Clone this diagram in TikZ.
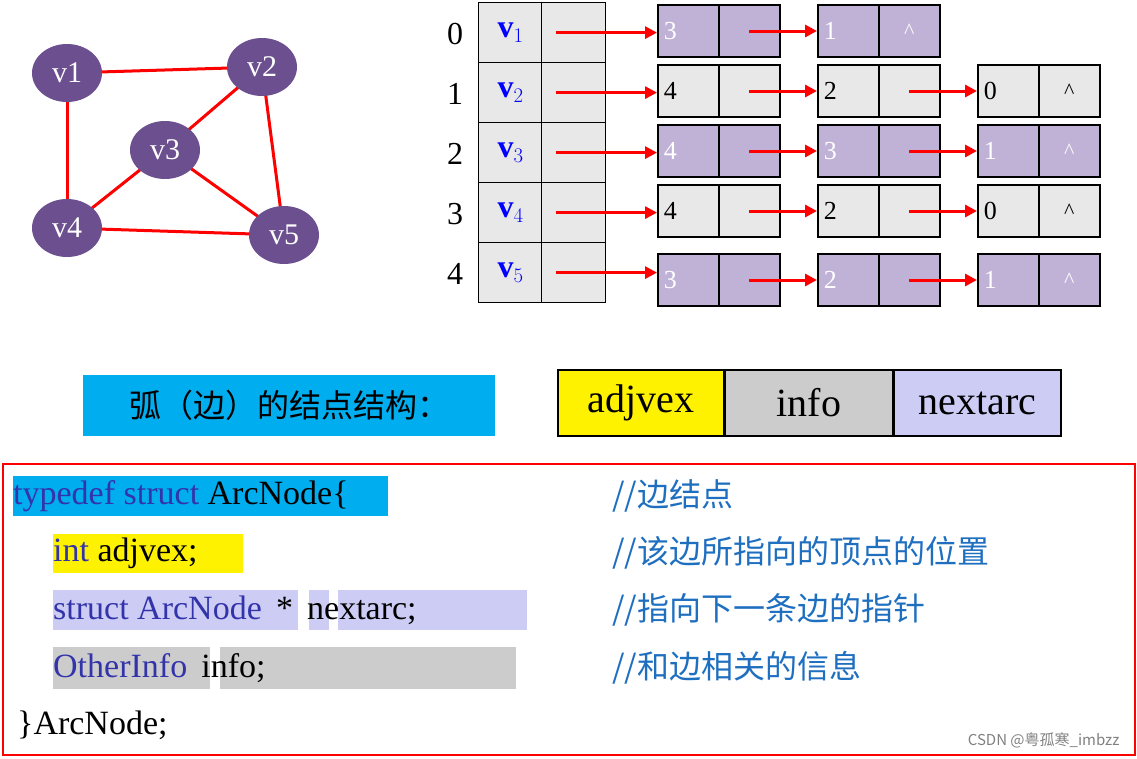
\documentclass[tikz,border=0pt]{standalone}
\usepackage{fontspec}
\setmainfont{Liberation Serif}
\newfontfamily\cjk{Noto Sans CJK SC}
\usetikzlibrary{arrows.meta, positioning, shapes.geometric}

\definecolor{vexpurple}{RGB}{107,79,143}
\definecolor{cellpurple}{RGB}{192,178,214}
\definecolor{cellgray}{RGB}{232,232,232}
\definecolor{kwblue}{RGB}{51,51,170}
\definecolor{cmtblue}{RGB}{31,111,192}
\definecolor{lav}{RGB}{204,204,245}

\begin{document}
\begin{tikzpicture}[x=1pt, y=-1pt,
    vex/.style={ellipse, fill=vexpurple, minimum width=70pt, minimum height=58pt,
                text=white, font=\fontsize{30}{30}\selectfont, inner sep=0pt},
    edge/.style={red, line width=3pt},
    head/.style={draw=black, line width=1.2pt, fill=cellgray, minimum width=64pt,
                 minimum height=60pt, inner sep=0pt, anchor=north west},
    arc/.style={draw=black, line width=1.5pt, minimum width=61pt, minimum height=52pt,
                inner sep=6pt, anchor=west, text width=49pt, align=left,
                font=\fontsize{26}{26}\selectfont},
    ptr/.style={red, line width=3pt, -{Triangle[length=12pt, width=12pt]}},
    code/.style={font=\fontsize{34}{34}\selectfont, anchor=west, inner sep=0pt},
    cmt/.style={font=\cjk\fontsize{32}{32}\selectfont, text=cmtblue, anchor=west, inner sep=0pt}
]
\useasboundingbox (0,0) rectangle (1137,758);

% Graph
\coordinate (v1) at (67,73);
\coordinate (v2) at (262,67);
\coordinate (v3) at (165,150);
\coordinate (v4) at (67,228);
\coordinate (v5) at (284,235);
\foreach \a/\b in {v1/v2, v1/v4, v2/v5, v2/v3, v3/v4, v3/v5, v4/v5}
  \draw[edge] (\a) -- (\b);
\foreach \n in {1,...,5}
  \node[vex] (n\n) at (v\n) {v\n};

% Vertex array
\foreach \i in {0,...,4} {
  \pgfmathtruncatemacro{\k}{\i+1}
  \node[head] (h\i) at (478,{2+60*\i}) {};
  \node[head] (p\i) at (541,{2+60*\i}) {};
  \node[font=\fontsize{32}{32}\selectfont] (idx\i) at (455,{34+60*\i}) {\i};
  \node[text=blue, font=\bfseries\fontsize{32}{32}\selectfont] at (h\i) {v$_{\k}$};
}

% Arc lists
\foreach \r/\y/\col/\txt/\list in {
    0/31/cellpurple/white/{3,1},
    1/91/cellgray/black/{4,2,0},
    2/151/cellpurple/white/{4,3,1},
    3/211/cellgray/black/{4,2,0},
    4/280/cellpurple/white/{3,2,1}} {
  \foreach \v [count=\c] in \list {
    \pgfmathsetmacro{\xx}{657+160*(\c-1)}
    \node[arc, fill=\col, text=\txt] (a\r\c) at (\xx,\y) {\v};
    \node[arc, fill=\col, text=\txt] (b\r\c) at (\xx+61,\y) {};
  }
}
\foreach \r in {0,...,4}
  \draw[ptr] ([xshift=-18pt]p\r.center) -- (a\r1.west |- p\r.center);
\foreach \r/\c/\txt in {0/2/white, 1/3/black, 2/3/white, 3/3/black, 4/3/white}
  \node[text=\txt, font=\fontsize{22}{22}\selectfont] at (b\r\c) {\^{}};
\foreach \r/\n in {0/1,1/2,2/2,3/2,4/2}
  \foreach \c in {1,...,\n} {
    \pgfmathtruncatemacro{\d}{\c+1}
    \draw[ptr] (b\r\c.center) -- (a\r\d.west);
  }

% Arc node structure
\node[fill=cyan, minimum width=412pt, minimum height=61pt, inner sep=0pt,
      font=\cjk\fontsize{32}{32}\selectfont] (title) at (289,405) {弧（边）的结点结构：};
\node[draw, line width=1.5pt, fill=yellow, minimum width=166pt, minimum height=66pt,
      font=\fontsize{40}{40}\selectfont] (fadj) at (641,403) {adjvex};
\node[draw, line width=1.5pt, fill=lightgray!80, minimum width=167pt, minimum height=66pt,
      font=\fontsize{40}{40}\selectfont, right=0pt of fadj] (finfo) {info};
\node[draw, line width=1.5pt, fill=lav, minimum width=167pt, minimum height=66pt,
      font=\fontsize{40}{40}\selectfont, right=0pt of finfo] (fnext) {nextarc};

% Code
\node[draw=red, line width=2pt, minimum width=1132pt, minimum height=291pt,
      inner sep=0pt] (frame) at (568.5,609) {};
\fill[cyan] (13,476) rectangle (388,516);
\fill[yellow] (53,534) rectangle (243,573);
\fill[lav] (53,590) rectangle (298,630);
\fill[lav] (309,590) rectangle (329,630);
\fill[lav] (338,590) rectangle (527,630);
\fill[lightgray!80] (53,647) rectangle (210,689);
\fill[lightgray!80] (220,647) rectangle (516,689);
\node[code] (l1) at (13,496) {\textcolor{kwblue}{typedef struct} ArcNode\{};
\node[code] (l2) at (53,553) {\textcolor{kwblue}{int} adjvex;};
\node[code] (l3) at (53,610) {\textcolor{kwblue}{struct ArcNode} \,* \,nextarc;};
\node[code] (l4) at (53,668) {\textcolor{kwblue}{OtherInfo} \,info;};
\node[code] (l5) at (17,725) {\}ArcNode;};
\node[cmt] (c1) at (612,496) {//边结点};
\node[cmt] (c2) at (612,553) {//该边所指向的顶点的位置};
\node[cmt] (c3) at (612,610) {//指向下一条边的指针};
\node[cmt] (c4) at (612,668) {//和边相关的信息};
\node[font=\cjk\fontsize{15}{15}\selectfont, text=gray, anchor=east] (mark) at (1123,740) {CSDN @粤孤寒\_imbzz};
\end{tikzpicture}
\end{document}
